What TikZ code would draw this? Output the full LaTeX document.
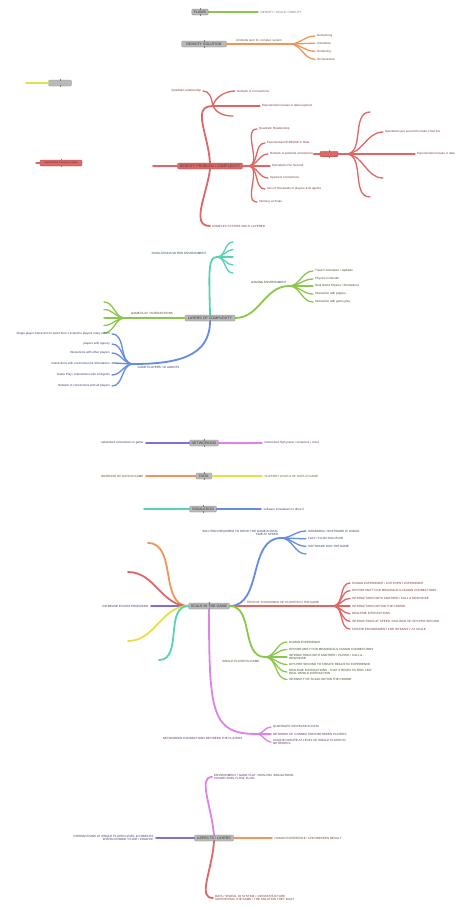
\documentclass[tikz,border=0pt]{standalone}
\usepackage{fontspec}
\setmainfont{Liberation Sans}
\definecolor{cgreen}{RGB}{139,199,74}
\definecolor{corange}{RGB}{240,150,90}
\definecolor{cred}{RGB}{224,102,102}
\definecolor{cteal}{RGB}{88,210,178}
\definecolor{cblue}{RGB}{100,140,225}
\definecolor{cpurple}{RGB}{130,110,215}
\definecolor{cmagenta}{RGB}{222,130,232}
\definecolor{cyellow}{RGB}{232,222,70}
\definecolor{cgray}{RGB}{185,185,185}
\tikzset{
 tickmark/.style={draw=black!50, line width=0.35pt},
 hubnode/.style={rounded corners=1pt, fill=cgray, draw=black!45, line width=0.3pt, font=\fontsize{3.6}{4}\selectfont, text=black!80, inner xsep=2pt, inner ysep=0pt, minimum height=6pt,
   append after command={([yshift=1.3pt]\tikzlastnode.north) edge[tickmark] ([yshift=-1.3pt]\tikzlastnode.north) ([yshift=1.3pt]\tikzlastnode.south) edge[tickmark] ([yshift=-1.3pt]\tikzlastnode.south)}},
 rednode/.style={hubnode, fill=cred, draw=cred!70!black, text=black!75},
 lab/.style={font=\fontsize{3}{3.6}\selectfont, inner sep=0.5pt},
 mainbr/.style={line width=1.8pt, line cap=round},
 fanbr/.style={line width=1.3pt, line cap=round},
}
\newcommand{\fanR}[4]{%
 \foreach \xx/\yy/\lbl [count=\i] in {#4}{
  \coordinate (#1-\i) at (\xx,\yy);
  \draw[fanbr,#2] (#1) to[out=0,in=180] (#1-\i);
  \node[lab,text=#3,anchor=west,align=left] (#1-\i-t) at ([xshift=1.5pt]#1-\i) {\lbl};
 }}
\newcommand{\fanL}[4]{%
 \foreach \xx/\yy/\lbl [count=\i] in {#4}{
  \coordinate (#1-\i) at (\xx,\yy);
  \draw[fanbr,#2] (#1) to[out=180,in=0] (#1-\i);
  \node[lab,text=#3,anchor=east,align=right] (#1-\i-t) at ([xshift=-1.5pt]#1-\i) {\lbl};
 }}
\begin{document}
\begin{tikzpicture}[x=1pt,y=-1pt]
\useasboundingbox (0,0) rectangle (474,910);
\fill[white] (0,0) rectangle (474,910);

% FLAWS
\coordinate (flawsE) at (258,12);
\draw[mainbr,cgreen] (200,12) -- (flawsE);
\node[hubnode, minimum width=16pt] (flaws) at (200,12) {FLAWS};
\node[lab,anchor=west,text=black!55] (flawsT) at ([xshift=2pt]flawsE) {DENSITY / SCALE / FIDELITY};

% DENSITY SOLUTION
\node[hubnode, minimum width=45pt] (dsol) at (204,44) {DENSITY SOLUTION};
\coordinate (dsolH) at (290,44);
\draw[mainbr,corange] (dsol.east) -- (dsolH);
\node[lab,text=corange!50!black] (dsolT) at (259,40.5) {Umbrella term for complex system};
\fanR{dsolH}{corange}{corange!50!black}{315/36/Networking, 315/43.3/Simulation, 315/51.3/Rendering, 315/59.3/Orchestration}

% small gray node
\node[hubnode, minimum width=23pt] (g1) at (60,83) {};
\coordinate (g1W) at (26,83);
\draw[mainbr,cyellow] (g1W) -- (g1.west);

% small red node
\node[rednode, minimum width=42pt, font=\fontsize{2.6}{3}\selectfont] (r1) at (61,163) {Exponential increase in data};
\coordinate (r1W) at (36,163);
\draw[fanbr,cred] (r1W) -- (r1.west);

% DENSITY PROBLEM
\node[rednode, minimum width=65pt] (dp) at (210,166) {DENSITY PROBLEM / COMPLEXITY};
\coordinate (dpW) at (153,166);
\draw[mainbr,cred] (dpW) -- (dp.west);
\coordinate (dpU) at (213,106);
\draw[mainbr,cred] (dp.north) .. controls +(-2,-30) and +(-22,0) .. (dpU);
\coordinate (dpU1) at (203,91);
\coordinate (dpU2) at (235,91);
\coordinate (dpU3) at (260,106);
\coordinate (dpU4) at (233,116);
\draw[fanbr,cred] (dpU) .. controls +(-2,-10) and +(6,0) .. (dpU1);
\draw[fanbr,cred] (dpU) .. controls +(2,-10) and +(-8,0) .. (dpU2);
\draw[fanbr,cred] (dpU) -- (dpU3);
\draw[fanbr,cred] (dpU) .. controls +(4,8) and +(-8,0) .. (dpU4);
\node[lab,anchor=east,text=cred!55!black] (dpU1t) at ([xshift=-1.5pt]dpU1) {Quadratic relationship};
\node[lab,anchor=west,text=cred!55!black] (dpU2t) at ([xshift=1.5pt]dpU2) {Network of Connections};
\node[lab,anchor=west,text=cred!55!black] (dpU3t) at ([xshift=1.5pt]dpU3) {Exponential increase in data required};
\coordinate (dpD) at (210,226);
\draw[mainbr,cred] (dp.south) .. controls +(-3,25) and +(-20,0) .. (dpD);
\node[lab,anchor=west,text=cred!55!black] (dpDt) at ([xshift=1.5pt]dpD) {COMPLEX SYSTEM: MULTI LAYERED};
\coordinate (dpR) at (248,166);
\draw[mainbr,cred] (dp.east) -- (dpR);
\fanR{dpR}{cred}{cred!55!black}{257/129/{Quadratic Relationship}, 265/143/{Exponential INCREASE in Data}, 268/154/{Network \& potential connections}, 270/166/{Operations Per Second}, 268/178/{Speed of connections}, 265/189/{tens of thousands of players \& AI agents}, 257/202/{Intimacy at Scale}}
\node[rednode, minimum width=18pt, minimum height=5.5pt] (r2) at (329,154) {};
\draw[fanbr,cred] (dpR-3-t.east) -- (r2.west);
\coordinate (r2H) at (346,154);
\draw[mainbr,cred] (r2.east) -- (r2H);
\fanR{r2H}{cred}{cred!55!black}{370/112/{}, 383/132/{Operations per second to make it feel live}, 415/154/{Exponential increase in data}, 383/178/{}, 370/197/{}}

% LAYERS OF COMPLEXITY
\node[hubnode, minimum width=50pt] (lc) at (210,318) {LAYERS OF COMPLEXITY};
\coordinate (lcT) at (217,257);
\draw[mainbr,cteal] (lc.north) .. controls +(-1,-45) and +(-9,0) .. (lcT);
\node[lab,anchor=east,text=cteal!40!black] (lcTt) at (207,253) {SIMULATIONS WITHIN ENVIRONMENT};
\fanR{lcT}{cteal}{cteal!40!black}{233/242/{}, 233/249.5/{}, 233/257/{}, 233/265/{}, 233/273/{}}
\coordinate (lcG) at (125,318);
\draw[mainbr,cgreen] (lc.west) -- (lcG);
\node[lab,text=cgreen!40!black] (lcGt) at (152,313.5) {GAME PLAY / INTERACTIONS};
\fanL{lcG}{cgreen}{cgreen!40!black}{104/302/{}, 104/309.5/{}, 104/318/{}, 104/325.5/{}, 104/333/{}}
\coordinate (lcB) at (133,364);
\draw[mainbr,cblue] (lc.south) .. controls +(0,35) and +(45,0) .. (lcB);
\node[lab,anchor=west,text=cblue!45!black] (lcBt) at (137,367.5) {GAME PLAYERS / AI AGENTS};
\fanL{lcB}{cblue}{cblue!45!black}{112/334/{Single player interaction to world then 1 scaled to players many others}, 112/344/{players with agency}, 112/353/{Interactions with other players}, 112/363/{Interactions with environment \& Simulations}, 112/375/{Game Play / Interactions with AI Agents}, 112/386/{Network of connections with all players}}
\coordinate (lcE) at (289,286);
\draw[mainbr,cgreen] (lc.east) to[out=0,in=180] (lcE);
\node[lab,anchor=east,text=cgreen!40!black] (lcEt) at (287,282) {GAMING ENVIRONMENT};
\fanR{lcE}{cgreen}{cgreen!40!black}{313/271/{Travel / Animation / Updates}, 313/279/{Physics in Render}, 313/286/{Real World Physics / Simulations}, 313/294/{Interaction with players}, 313/302/{Interaction with game play}}

% NETWORKING
\node[hubnode, minimum width=29pt] (net) at (204,443) {NETWORKING};
\coordinate (netL) at (146,443);
\coordinate (netR) at (262,443);
\draw[mainbr,cpurple] (net.west) -- (netL);
\draw[mainbr,cmagenta] (net.east) -- (netR);
\node[lab,anchor=east,text=cpurple!45!black] (netLt) at ([xshift=-2pt]netL) {networked connections in game};
\node[lab,anchor=west,text=cmagenta!45!black] (netRt) at ([xshift=2pt]netR) {Networked high power computers / cloud};

% DATA
\node[hubnode, minimum width=16pt] (data) at (204,476) {DATA};
\coordinate (dataL) at (146,476);
\coordinate (dataR) at (262,476);
\draw[mainbr,corange] (data.west) -- (dataL);
\draw[mainbr,cyellow] (data.east) -- (dataR);
\node[lab,anchor=east,text=corange!45!black] (dataLt) at ([xshift=-2pt]dataL) {INCREASE OF DATA IN GAME};
\node[lab,anchor=west,text=cyellow!45!black] (dataRt) at ([xshift=2pt]dataR) {SUPPORT LEVELS OF DATA IN GAME};

% SIMULATION
\node[hubnode, minimum width=27pt] (sim) at (203,509) {SIMULATION};
\coordinate (simL) at (144,509);
\coordinate (simR) at (261,509);
\draw[mainbr,cteal] (sim.west) -- (simL);
\draw[mainbr,cblue] (sim.east) -- (simR);
\node[lab,anchor=west,text=cblue!45!black] (simRt) at ([xshift=2pt]simR) {software simulations to drive it};

% SCALE IN THE GAME
\node[hubnode, minimum width=41pt] (sc) at (209,606) {SCALE IN THE GAME};
\coordinate (scL) at (151,606);
\draw[mainbr,cpurple] (sc.west) -- (scL);
\node[lab,anchor=east,text=cpurple!45!black] (scLt) at ([xshift=-2pt]scL) {INCREASE IN DATA PRODUCED};
\coordinate (scO) at (148,543);
\coordinate (scRd) at (128,572);
\coordinate (scY) at (128,641);
\coordinate (scT) at (159,660);
\draw[mainbr,corange] (sc.west) to[out=180,in=0] (scO);
\draw[mainbr,cred] (sc.west) to[out=180,in=0] (scRd);
\draw[mainbr,cyellow] (sc.west) to[out=180,in=0] (scY);
\draw[mainbr,cteal] (sc.west) to[out=180,in=0] (scT);
\coordinate (scB) at (281,538);
\draw[mainbr,cblue] (sc.east) to[out=0,in=180] (scB);
\node[lab,anchor=south east,align=right,text=cblue!45!black] (scBt) at (279,536.5) {SOLUTION REQUIRED TO DRIVE THE GAME IN REAL\\TIME AT SPEED};
\fanR{scB}{cblue}{cblue!45!black}{306/531/{SWARMING / SOFTWARE IS LINEAR}, 306/538.7/{FLEX / FLUID SOLUTION}, 306/546.3/{SOFTWARE RUN THE GAME}, 306/554/{}}
\coordinate (scR2) at (333,606);
\draw[mainbr,cred] (sc.east) -- (scR2);
\node[lab,text=cred!55!black] (scR2t) at (283,602) {TENS OF THOUSANDS OF PLAYERS IN THE GAME};
\fanR{scR2}{cred}{cred!55!black}{350/583/{HUMAN EXPERIENCE / LIVE EVENT EXPERIENCE}, 350/590.7/{OPPORTUNITY FOR MEANINGFUL HUMAN CONNECTIONS}, 350/598.3/{INTERACTIONS WITH ANOTHER / CALL \& RESPONSE}, 350/606/{INTERACTIONS WITHIN THE CROWD}, 350/613.7/{REALTIME INTERACTIONS}, 350/621.3/{INTERACTIONS AT SPEED / MILLIONS OF OPS PER SECOND}, 350/629/{CREATE ENVIRONMENT FOR INTENSITY AT SCALE}}
\coordinate (scG) at (265,657);
\draw[mainbr,cgreen] (sc.east) to[out=0,in=180] (scG);
\node[lab,anchor=east,text=cgreen!40!black] (scGt) at (260,661) {SINGLE PLAYER IN GAME};
\fanR{scG}{cgreen}{cgreen!40!black}{287/642/{HUMAN EXPERIENCE}, 287/649.5/{OPPORTUNITY FOR MEANINGFUL HUMAN CONNECTIONS}, 287/657/{INTERACTIONS WITH ANOTHER / PLAYER / CALL \&\\RESPONSE}, 287/664.5/{OPS PER SECOND TO CREATE REALISTIC EXPERIENCE}, 287/672/{REALTIME INTERACTIONS - THAT STRIVES TO FEEL LIKE\\REAL WORLD INTERACTION}, 287/679.5/{INTENSITY OF SCALE WITHIN THE CROWD}}
\coordinate (scM) at (257,734);
\draw[mainbr,cmagenta] (sc.south) .. controls +(0,105) and +(-45,0) .. (scM);
\node[lab,anchor=east,text=cmagenta!40!black] (scMt) at (243,738) {NETWORKED CONNECTIONS BETWEEN THE PLAYERS};
\fanR{scM}{cmagenta}{cmagenta!40!black}{271/727/{QUADRATIC INCREASE IN DATA}, 271/734/{NETWORK OF CONNECTIONS BETWEEN PLAYERS}, 271/742/{UNIQUE NATURE AT LEVEL OF SINGLE PLAYER IN\\NETWORKS}}

% ASPECTS / LAYERS
\node[hubnode, minimum width=39pt] (as) at (214,838) {ASPECTS / LAYERS};
\coordinate (asU) at (212,777);
\draw[mainbr,cmagenta] (as.north) .. controls +(-3,-30) and +(-14,0) .. (asU);
\node[lab,anchor=west,align=left,text=cmagenta!40!black] (asUt) at ([xshift=1.5pt]asU) {ENVIRONMENT / GAME PLAY / REALISM, SIMULATIONS,\\CROWD SIMS, FLOW, FLUID};
\coordinate (asL) at (156,838);
\draw[mainbr,cpurple] (as.west) -- (asL);
\node[lab,anchor=east,align=right,text=cpurple!45!black] (asLt) at ([xshift=-2pt]asL) {INTERACTIONS AT SINGLE PLAYER LEVEL \& COMPLEX\\WITHIN CROWD / FLUID / CHAOTIC};
\coordinate (asR) at (272,838);
\draw[mainbr,corange] (as.east) -- (asR);
\node[lab,anchor=west,text=corange!45!black] (asRt) at ([xshift=2pt]asR) {HUMAN EXPERIENCE / UNFORESEEN RESULT};
\coordinate (asD) at (213,898);
\draw[mainbr,cred] (as.south) .. controls +(-2,30) and +(-16,0) .. (asD);
\node[lab,anchor=west,align=left,text=cred!55!black] (asDt) at ([xshift=1.5pt]asD) {DATA / SPATIAL IO SYSTEM + INFRASTRUCTURE\\SUPPORTING THE GAME / THE SOLUTION THEY BUILT};
\end{tikzpicture}
\end{document}
